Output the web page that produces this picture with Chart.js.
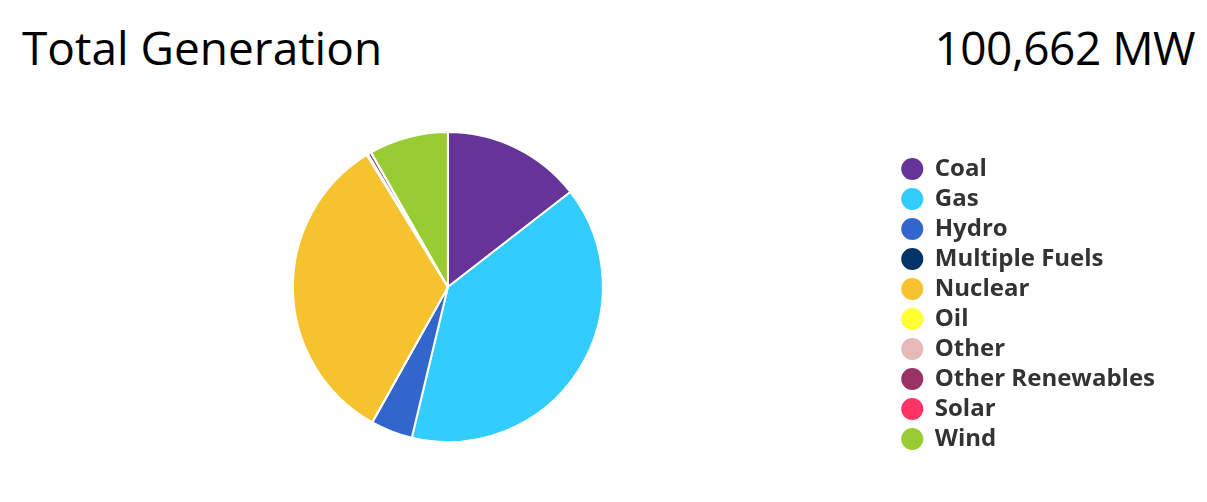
<!DOCTYPE html>
<html>
<head>
<meta charset="utf-8">
<script src="https://cdn.jsdelivr.net/npm/chart.js@4/dist/chart.umd.min.js"></script>
<style>
  body { margin: 0; background: #fff; font-family: "Trebuchet MS", "Open Sans", sans-serif; }
  #wrap { position: relative; width: 1207px; height: 502px; }
  .head { position: absolute; top: 16px; font-size: 46px; color: #000; }
  #title { left: 22px; }
  #total { right: 12px; letter-spacing: -0.5px; }
  #box { position: absolute; left: 0; top: 0; width: 1207px; height: 502px; }
</style>
</head>
<body>
<div id="wrap">
  <div class="head" id="title">Total Generation</div>
  <div class="head" id="total"></div>
  <div id="box"><canvas id="generation-pie"></canvas></div>
</div>
<script>
/* fuel types and their output in MW */
let fuels = ['Coal', 'Gas', 'Hydro', 'Multiple Fuels', 'Nuclear', 'Oil', 'Other', 'Other Renewables', 'Solar', 'Wind']
let megawatts = [14596, 39500, 4390, 20, 33331, 40, 110, 350, 20, 8305]
let fuelColors = ['#663399', '#33ccff', '#3366cc', '#003366', '#f6c22e', '#ffff33', '#e6b8b8', '#993366', '#ff3366', '#99cc33']

// header total is the sum of all fuels
let total = megawatts.reduce(function(a, b) { return a + b }, 0)
document.querySelector('#total').textContent = total.toLocaleString('en-US') + ' MW'

let ctx = document.querySelector('#generation-pie').getContext('2d')

let generationChart = new Chart(ctx, {
    type: 'pie',
    data: {
        labels: fuels,
        datasets: [
            {
                data: megawatts,
                backgroundColor: fuelColors,
                borderColor: '#fff',
                borderWidth: 2,
                radius: 155
            }
        ]
    },
    options: {
        responsive: true,
        maintainAspectRatio: false,
        animation: false,
        layout: { padding: { top: 117, bottom: 45, left: 0, right: 42 } },
        plugins: {
            tooltip: { enabled: false },
            legend: {
                position: 'right',
                align: 'end',
                labels: {
                    usePointStyle: true,
                    pointStyle: 'circle',
                    boxWidth: 21,
                    boxHeight: 17,
                    padding: 6,
                    color: '#333',
                    font: { family: '"Trebuchet MS", "Open Sans", sans-serif', size: 24, weight: 'bold' }
                }
            }
        }
    }
})
</script>
</body>
</html>
